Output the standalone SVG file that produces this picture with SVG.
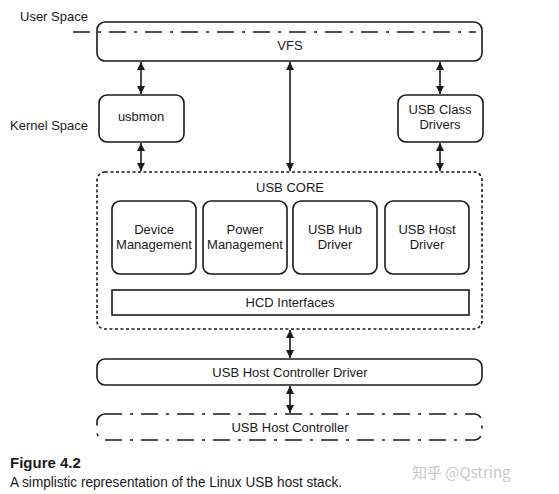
<svg xmlns="http://www.w3.org/2000/svg" width="559" height="494" viewBox="0 0 559 494">
<style>
text{font-family:"Liberation Sans",Arial,sans-serif;font-size:13px;fill:#1a1a1a}
.c{text-anchor:middle}
.box{fill:#fff;stroke:#1a1a1a;stroke-width:1.6}
.dot{fill:none;stroke:#1a1a1a;stroke-width:1.6;stroke-dasharray:3 2.5}
.dd{fill:none;stroke:#1a1a1a;stroke-width:1.6;stroke-dasharray:17 8 3 8}
.ln{stroke:#1a1a1a;stroke-width:1.6;fill:none;marker-start:url(#ah);marker-end:url(#ah)}
.wm{fill:#c8c8c8;font-size:15px}
</style>
<defs>
<marker id="ah" viewBox="0 0 10 10" refX="10" refY="5" markerWidth="5" markerHeight="6" orient="auto-start-reverse" markerUnits="strokeWidth">
<path d="M0,0 L10,5 L0,10 z" fill="#1a1a1a"/>
</marker>
</defs>
<rect width="559" height="494" fill="#fff"/>
<text x="20" y="21">User Space</text>
<text x="10" y="130">Kernel Space</text>
<g id="vfs">
<rect class="box" x="97" y="22" width="385" height="39" rx="8"/>
<text class="c" x="290" y="50">VFS</text>
</g>
<line class="dd" x1="73" y1="32" x2="476" y2="32"/>
<g id="usbmon">
<rect class="box" x="99" y="95" width="85" height="47" rx="8"/>
<text class="c" x="141" y="121">usbmon</text>
</g>
<g id="classdrivers">
<rect class="box" x="398" y="95" width="85" height="47" rx="8"/>
<text class="c" x="440" y="114">USB Class</text>
<text class="c" x="440" y="129">Drivers</text>
</g>
<g id="usbcore">
<rect class="dot" x="97" y="172" width="385" height="157" rx="8"/>
<text class="c" x="290" y="192">USB CORE</text>
</g>
<g id="devmgmt">
<rect class="box" x="112" y="201" width="84" height="73" rx="8"/>
<text class="c" x="154" y="234">Device</text>
<text class="c" x="154" y="249">Management</text>
</g>
<g id="pwrmgmt">
<rect class="box" x="203" y="201" width="84" height="73" rx="8"/>
<text class="c" x="245" y="234">Power</text>
<text class="c" x="245" y="249">Management</text>
</g>
<g id="hubdrv">
<rect class="box" x="293" y="201" width="84" height="73" rx="8"/>
<text class="c" x="335" y="234">USB Hub</text>
<text class="c" x="335" y="249">Driver</text>
</g>
<g id="hostdrv">
<rect class="box" x="385" y="201" width="84" height="73" rx="8"/>
<text class="c" x="427" y="234">USB Host</text>
<text class="c" x="427" y="249">Driver</text>
</g>
<g id="hcdif">
<rect class="box" x="112" y="290" width="357" height="25"/>
<text class="c" x="290" y="307">HCD Interfaces</text>
</g>
<g id="hcdriver">
<rect class="box" x="97" y="359" width="385" height="26" rx="8"/>
<text class="c" x="290" y="377">USB Host Controller Driver</text>
</g>
<g id="hc">
<rect class="dd" x="97" y="414" width="385" height="26" rx="8"/>
<text class="c" x="290" y="432">USB Host Controller</text>
</g>
<g id="connectors">
<line class="ln" x1="141" y1="62" x2="141" y2="94"/>
<line class="ln" x1="440" y1="62" x2="440" y2="94"/>
<line class="ln" x1="141" y1="143" x2="141" y2="171"/>
<line class="ln" x1="440" y1="143" x2="440" y2="171"/>
<line class="ln" x1="290" y1="62" x2="290" y2="171"/>
<line class="ln" x1="290" y1="330" x2="290" y2="358"/>
<line class="ln" x1="290" y1="386" x2="290" y2="413"/>
</g>
<text x="10" y="468" style="font-size:15px;font-weight:bold">Figure 4.2</text>
<text x="10" y="487" style="font-size:14px" textLength="332" lengthAdjust="spacingAndGlyphs">A simplistic representation of the Linux USB host stack.</text>
<text class="wm" x="412" y="478" style="font-family:'Noto Sans CJK SC',sans-serif">知乎 @Qstring</text>
</svg>
